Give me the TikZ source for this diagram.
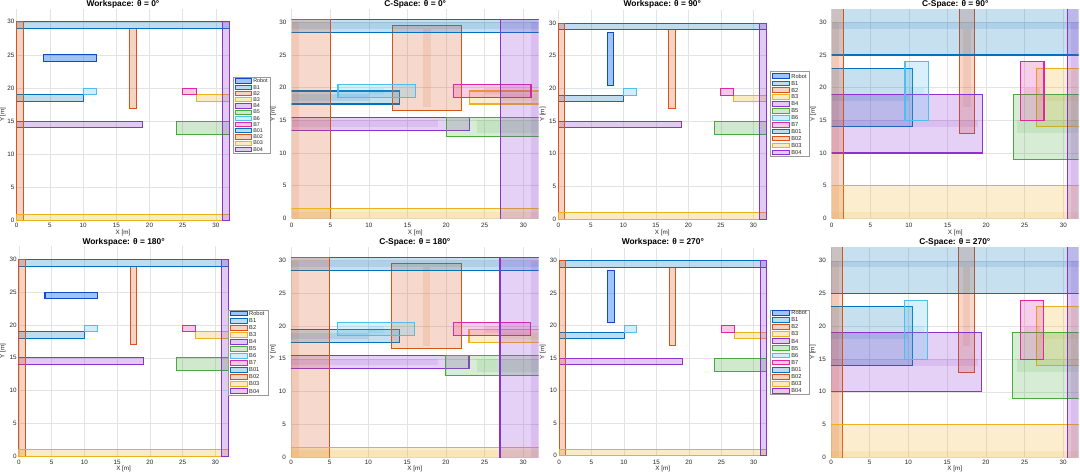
\documentclass[tikz,border=0pt]{standalone}
\usepackage{fontspec}
\setmainfont{Liberation Sans}
\definecolor{cB}{RGB}{0,114,189}
\definecolor{cO}{RGB}{217,83,25}
\definecolor{cY}{RGB}{237,177,32}
\definecolor{cP}{RGB}{140,50,210}
\definecolor{cG}{RGB}{70,170,60}
\definecolor{cC}{RGB}{77,190,238}
\definecolor{cM}{RGB}{226,40,160}
\definecolor{cR}{RGB}{40,125,240}
\definecolor{cRe}{RGB}{15,75,200}
\definecolor{axc}{RGB}{38,38,38}
\tikzset{
  gridline/.style={draw=black!11, line width=0.5pt},
  ticklab/.style={font=\fontsize{6.3}{7}\selectfont, text=axc, inner sep=0pt},
  axlab/.style={font=\fontsize{6.3}{7}\selectfont, text=axc, inner sep=0pt},
  ttl/.style={font=\bfseries\fontsize{8.4}{9}\selectfont, inner sep=0pt},
  legtext/.style={inner sep=0pt, anchor=west, text=axc},
  wsob/.style={fill opacity=0.25, line width=0.8pt},
  csob/.style={fill opacity=0.22, line width=1.1pt},
  robotbox/.style={fill=cR, fill opacity=0.45, draw=cRe, line width=1.1pt},
}
\newcommand\obslist{cB/0/18/10/19, cO/17/17/18/29, cY/27/18/32/19, cP/0/14/19/15, cG/24/13/32/15, cC/10/19/12/20, cM/25/19/27/20, cB/0/29/32/30, cO/0/0/1/30, cY/0/0/32/1, cP/31/0/32/30}
% #1 title, #2 ytick gap, #3 xtick drop, #4 xlabel drop, #5 ylabel dx, #6 title rise
\newcommand\axesdeco[6]{%
  \foreach \t in {0,5,...,30}{
    \draw[gridline] (\t,0) -- (\t,32);
    \draw[gridline] (0,\t) -- (32,\t);
    \node[ticklab, anchor=center] at ([yshift=-#3]\t,0) {\t};
    \node[ticklab, anchor=east] at ([xshift=-#2]0,\t) {\t};
  }
  \node[axlab] at ([yshift=-#4]16,0) {X [m]};
  \node[axlab, rotate=90] at ([xshift=-#5]0,16) {Y [m]};
  \node[ttl] at ([yshift=#6]16,0) {#1};
}
\newcommand\wsobstacles{%
  \foreach \c/\xa/\ya/\xb/\yb in \obslist {
    \filldraw[wsob, fill=\c, draw=\c] (\xa,\ya) rectangle (\xb,\yb);
  }
}
% #1 dx, #2 dy
\newcommand\csobstacles[2]{%
  \begin{scope}
    \clip (0,0) rectangle (32,32);
    \foreach \c/\xa/\ya/\xb/\yb in \obslist {
      \fill[fill=\c, fill opacity=0.12] (\xa,\ya) rectangle (\xb,\yb);
    }
    \foreach \c/\xa/\ya/\xb/\yb in \obslist {
      \filldraw[csob, fill=\c, draw=\c] ({\xa-#1},{\ya-#2}) rectangle ({\xb+#1},{\yb+#2});
    }
  \end{scope}
}
% #1 x1 #2 y1 #3 x2 #4 y2 #5 first centre #6 spacing #7 patch width #8 font size
\newcommand\legendbox[8]{%
  \draw[black!40, fill=white, line width=0.5pt] (#1,#2) rectangle (#3,#4);
  \filldraw[fill=cR, fill opacity=0.45, draw=cRe, line width=1pt] ({#1+2},{#5-0.34*#6}) rectangle ({#1+2+#7},{#5+0.34*#6});
  \node[legtext, font=\fontsize{#8}{#8}\selectfont] at ({#1+3.5+#7},#5) {Robot};
  \foreach \c/\lab [count=\i] in {cB/B1,cO/B2,cY/B3,cP/B4,cG/B5,cC/B6,cM/B7,cB/B01,cO/B02,cY/B03,cP/B04}{
    \filldraw[fill=\c, fill opacity=0.25, draw=\c, line width=0.7pt] ({#1+2},{#5+\i*#6-0.34*#6}) rectangle ({#1+2+#7},{#5+\i*#6+0.34*#6});
    \node[legtext, font=\fontsize{#8}{#8}\selectfont] at ({#1+3.5+#7},{#5+\i*#6}) {\lab};
  }
}
\begin{document}
\begin{tikzpicture}[x=1pt, y=-1pt]
\useasboundingbox[fill=white] (0,0) rectangle (1080,476);
% ---------- Workspace 0
\begin{scope}[shift={(16.7,220.7)}, x=6.64pt, y=6.63pt]
  \axesdeco{Workspace: θ = 0°}{2pt}{5pt}{12.6pt}{14pt}{216.4pt}
  \wsobstacles
  \draw[robotbox] (4,24) rectangle (12,25);
\end{scope}
\legendbox{233.3}{77.5}{270}{153}{81}{6.2}{16.3}{5.4}
% ---------- C-Space 0
\begin{scope}[shift={(291.7,218.3)}, x=7.72pt, y=6.53pt]
  \axesdeco{C-Space: θ = 0°}{5pt}{7.4pt}{15pt}{18.4pt}{214pt}
  \csobstacles{4}{0.5}
\end{scope}
% ---------- Workspace 90
\begin{scope}[shift={(558.3,219)}, x=6.5pt, y=6.53pt]
  \axesdeco{Workspace: θ = 90°}{2pt}{6.7pt}{14.3pt}{15.6pt}{214.7pt}
  \wsobstacles
  \draw[robotbox] (7.5,20.5) rectangle (8.5,28.5);
\end{scope}
\legendbox{770}{71.7}{809}{156.7}{76.3}{6.9}{17.7}{5.7}
% ---------- C-Space 90
\begin{scope}[shift={(831.7,218.3)}, x=7.72pt, y=6.53pt]
  \axesdeco{C-Space: θ = 90°}{5pt}{7.4pt}{15pt}{18.4pt}{214pt}
  \csobstacles{0.5}{4}
\end{scope}
% ---------- Workspace 180
\begin{scope}[shift={(18.8,456)}, x=6.55pt, y=6.55pt]
  \axesdeco{Workspace: θ = 180°}{2pt}{6.5pt}{13.3pt}{16.1pt}{213.7pt}
  \wsobstacles
  \draw[robotbox] (4,24) rectangle (12,25);
\end{scope}
\legendbox{228.5}{310}{268}{395}{313.5}{7.05}{17}{5.7}
% ---------- C-Space 180
\begin{scope}[shift={(291,457)}, x=7.74pt, y=6.55pt]
  \axesdeco{C-Space: θ = 180°}{5pt}{5.5pt}{12.3pt}{18pt}{214.7pt}
  \csobstacles{4}{0.5}
\end{scope}
% ---------- Workspace 270
\begin{scope}[shift={(559,455.7)}, x=6.49pt, y=6.5pt]
  \axesdeco{Workspace: θ = 270°}{2pt}{6.8pt}{13.6pt}{16.3pt}{213.4pt}
  \wsobstacles
  \draw[robotbox] (7.5,20.5) rectangle (8.5,28.5);
\end{scope}
\legendbox{770}{310}{809}{394.3}{312.7}{7.1}{17.7}{5.7}
% ---------- C-Space 270
\begin{scope}[shift={(831,457.3)}, x=7.74pt, y=6.55pt]
  \axesdeco{C-Space: θ = 270°}{5pt}{5.2pt}{12pt}{18.3pt}{215pt}
  \csobstacles{0.5}{4}
\end{scope}
\end{tikzpicture}
\end{document}
